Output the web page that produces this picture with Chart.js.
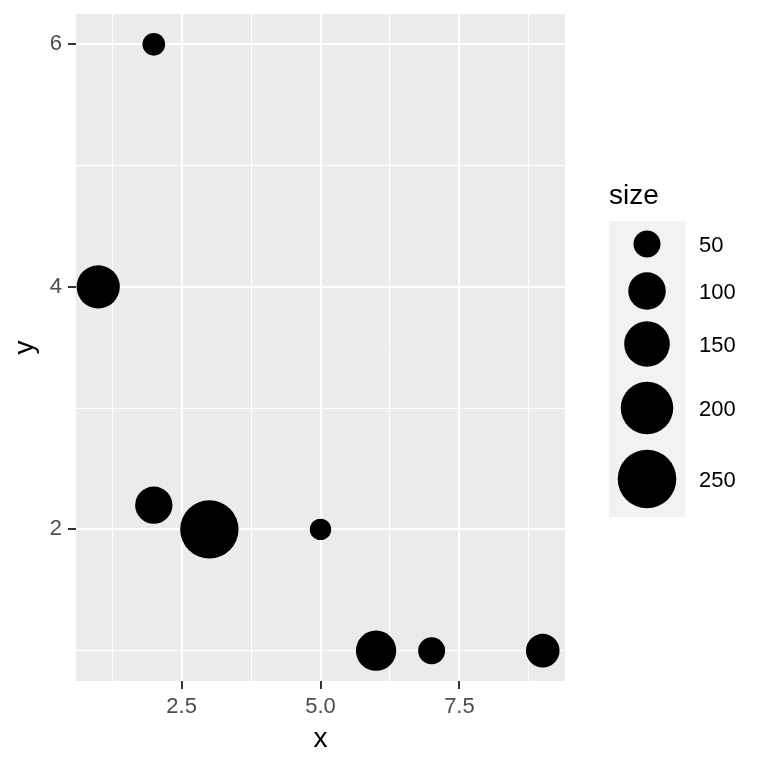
<!DOCTYPE html>
<html>
<head>
<meta charset="utf-8">
<script src="https://cdn.jsdelivr.net/npm/chart.js@4.4.0/dist/chart.umd.min.js"></script>
<style>
  body { margin: 0; background: #fff; }
  canvas { display: block; }
</style>
</head>
<body>
<canvas id="bubbleChart" width="768" height="768"></canvas>
<script>
// data
const xs = [1, 2, 2, 3, 5, 6, 7, 9];
const ys = [4, 6, 2.2, 2, 2, 1, 1, 1];
const sizes = [134, 34, 99, 248, 30, 116, 50, 80];
const legendBreaks = [50, 100, 150, 200, 250];
const xMajor = [2.5, 5, 7.5];
const xMinor = [1.25, 3.75, 6.25, 8.75];
const yMajor = [2, 4, 6];
const yMinor = [1, 3, 5];

const FONT = "'Liberation Sans', Arial, sans-serif";

// area scaling, like scale_size
function radius(v) {
  return Math.sqrt(3.38 * v + 13);
}

const points = xs.map((x, i) => ({ x: x, y: ys[i], r: radius(sizes[i]) }));

const panelBg = {
  id: "panelBg",
  beforeDraw(chart) {
    const { ctx, chartArea: a } = chart;
    ctx.save();
    ctx.fillStyle = "#EBEBEB";
    ctx.fillRect(a.left, a.top, a.right - a.left, a.bottom - a.top);
    ctx.restore();
  }
};

const sizeLegend = {
  id: "sizeLegend",
  afterDraw(chart) {
    const ctx = chart.ctx;
    const keyCenters = [244, 291, 344, 408, 479];
    ctx.save();
    ctx.fillStyle = "#000";
    ctx.font = "28px " + FONT;
    ctx.textBaseline = "alphabetic";
    ctx.textAlign = "left";
    ctx.fillText("size", 609, 204);

    ctx.fillStyle = "#F2F2F2";
    ctx.fillRect(609, 221, 76, 296);

    legendBreaks.forEach((b, i) => {
      ctx.beginPath();
      ctx.fillStyle = "#000";
      ctx.arc(647, keyCenters[i], radius(b), 0, Math.PI * 2);
      ctx.fill();
      ctx.font = "22px " + FONT;
      ctx.textBaseline = "middle";
      ctx.fillText(String(b), 699, keyCenters[i] + 1.5);
    });
    ctx.restore();
  }
};

function isIn(arr, v) {
  return arr.some(m => Math.abs(m - v) < 1e-9);
}

new Chart(document.getElementById("bubbleChart"), {
  type: "bubble",
  data: {
    datasets: [{
      data: points,
      backgroundColor: "#000",
      borderWidth: 0,
      hoverRadius: 0
    }]
  },
  options: {
    responsive: false,
    animation: false,
    events: [],
    layout: { autoPadding: false, padding: { top: 14, right: 203, bottom: 0, left: 0 } },
    plugins: {
      legend: { display: false },
      tooltip: { enabled: false }
    },
    scales: {
      x: {
        type: "linear",
        min: 0.6,
        max: 9.4,
        afterBuildTicks: s => { s.ticks = xMinor.concat(xMajor).sort((a, b) => a - b).map(v => ({ value: v })); },
        afterFit: s => { s.height = 87; s.paddingLeft = 0; s.paddingRight = 0; },
        border: { display: false },
        grid: {
          color: "#FFFFFF",
          lineWidth: c => isIn(xMajor, c.tick.value) ? 2 : 1,
          tickColor: c => isIn(xMajor, c.tick.value) ? "#333333" : "rgba(0,0,0,0)",
          tickWidth: 2,
          tickLength: 8
        },
        ticks: {
          autoSkip: false,
          maxRotation: 0,
          padding: 5,
          color: "#4D4D4D",
          font: { family: FONT, size: 22 },
          callback: v => isIn(xMajor, v) ? v.toFixed(1) : ""
        },
        title: {
          display: true,
          text: "x",
          color: "#000",
          font: { family: FONT, size: 28 },
          padding: { top: 12, bottom: 12 }
        }
      },
      y: {
        type: "linear",
        min: 0.75,
        max: 6.25,
        afterBuildTicks: s => { s.ticks = yMinor.concat(yMajor).sort((a, b) => a - b).map(v => ({ value: v })); },
        afterFit: s => { s.width = 76; s.paddingTop = 0; s.paddingBottom = 0; },
        border: { display: false },
        grid: {
          color: "#FFFFFF",
          lineWidth: c => isIn(yMajor, c.tick.value) ? 2 : 1,
          tickColor: c => isIn(yMajor, c.tick.value) ? "#333333" : "rgba(0,0,0,0)",
          tickWidth: 2,
          tickLength: 8
        },
        ticks: {
          autoSkip: false,
          padding: 6,
          color: "#4D4D4D",
          font: { family: FONT, size: 22 },
          callback: v => isIn(yMajor, v) ? String(v) : ""
        },
        title: {
          display: true,
          text: "y",
          color: "#000",
          font: { family: FONT, size: 28 },
          padding: { top: 8, bottom: 8 }
        }
      }
    }
  },
  plugins: [panelBg, sizeLegend]
});
</script>
</body>
</html>
